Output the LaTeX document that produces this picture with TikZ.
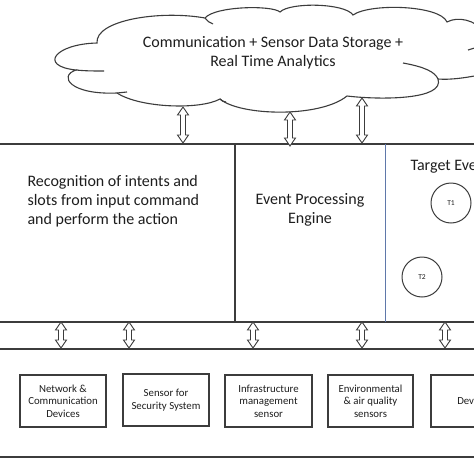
\documentclass[tikz,border=0pt]{standalone}
\usepackage{fontspec}
\setmainfont{Carlito}
\definecolor{ln}{RGB}{60,60,60}
\definecolor{txt}{RGB}{30,30,30}
\definecolor{bl}{RGB}{95,120,170}
\newcommand\blkarrow[2]{%
  \draw[blockarr] (#1) -- ([shift={(5.5,8)}]#1) -- ([shift={(2.5,8)}]#1)
    -- ([shift={(2.5,-8)}]#2) -- ([shift={(5.5,-8)}]#2) -- (#2)
    -- ([shift={(-5.5,-8)}]#2) -- ([shift={(-2.5,-8)}]#2)
    -- ([shift={(-2.5,8)}]#1) -- ([shift={(-5.5,8)}]#1) -- cycle;}
\begin{document}
\begin{tikzpicture}[x=1pt,y=-1pt,
  frame/.style={draw=ln, line width=1.2pt},
  blockarr/.style={draw=ln, fill=white, line width=0.9pt, line join=miter},
  bigtext/.style={text=txt, font=\fontsize{16}{19}\selectfont},
  sensor/.style={draw=ln, line width=1.1pt, minimum width=86pt, minimum height=52pt,
    inner sep=1pt, align=center, text=txt, font=\fontsize{10.8}{12.6}\selectfont},
  target/.style={circle, draw=ln, line width=1pt, minimum size=40pt, inner sep=0pt,
    text=txt, font=\fontsize{7.5}{8}\selectfont}]
\useasboundingbox (0,0) rectangle (474,474);
\clip (0,0) rectangle (474,474);
\fill[white] (0,0) rectangle (474,474);
% cloud
\draw[frame, line width=1.1pt, fill=white] (97,43)
  .. controls (55,44) and (38,66) .. (76,70)
  .. controls (58,76) and (70,95) .. (117,93)
  .. controls (140,108) and (200,110) .. (220,99)
  .. controls (240,116) and (320,118) .. (347,96)
  .. controls (380,100) and (445,100) .. (438,79)
  .. controls (450,80) and (465,78) .. (485,74)
  -- (495,74) -- (495,32) -- (485,32)
  .. controls (475,20) and (458,16) .. (447,22)
  .. controls (440,5) and (370,3) .. (353,15)
  .. controls (345,3) and (290,2) .. (280,12)
  .. controls (272,5) and (215,6) .. (205,18)
  .. controls (160,10) and (95,20) .. (97,43) -- cycle;
\draw[frame, line width=1.1pt] (76,70) .. controls (85,71) and (95,71) .. (104,71);
\draw[frame, line width=1.1pt] (117,93) -- (127,92);
\draw[frame, line width=1.1pt] (205,18) .. controls (207,21) and (210,23) .. (213,24);
\draw[frame, line width=1.1pt] (220,99) .. controls (222,101) and (224,102) .. (226,102);
\draw[frame, line width=1.1pt] (403,63) .. controls (425,67) and (435,72) .. (438,79);
\draw[frame, line width=1.1pt] (468,50) .. controls (471,49) and (474,48) .. (480,47);
\node[bigtext, align=center] (cloudtext) at (273,53) {Communication + Sensor Data Storage +\\Real Time Analytics};
% frame lines
\draw[frame] (0,144) -- (474,144);
\draw[frame] (0,322) -- (474,322);
\draw[frame] (0,349) -- (474,349);
\draw[frame] (0,457) -- (474,457);
\draw[frame] (235,144) -- (235,322);
\draw[draw=bl, line width=0.8pt] (385,144) -- (385,322);
% texts in top row
\node[bigtext, anchor=west, align=left] (recog) at (24,201) {Recognition of intents and\\slots from input command\\and perform the action};
\node[bigtext, align=center] (epe) at (310,210) {Event Processing\\Engine};
\node[bigtext, anchor=west] (tev) at (407,167) {Target Events};
\node[target] (t1) at (451,203) {T1};
\node[target] (t2) at (422,277) {T2};
% cloud arrows
\coordinate (c1) at (183,107); \coordinate (u1) at (183,143);
\coordinate (c2) at (290,112); \coordinate (u2) at (290,146);
\coordinate (c3) at (362,98);  \coordinate (u3) at (362,143);
\blkarrow{c1}{u1}
\blkarrow{c2}{u2}
\blkarrow{c3}{u3}
% bus arrows
\foreach \i/\x in {1/61,2/129,3/253,4/362,5/445}{
  \coordinate (bt\i) at (\x,322); \coordinate (bb\i) at (\x,348);
  \blkarrow{bt\i}{bb\i}
}
% sensor boxes
\node[sensor] (s1) at (63,401) {Network \&\\Communication\\Devices};
\node[sensor] (s2) at (166,400) {Sensor for\\Security System};
\node[sensor, minimum width=87pt] (s3) at (268.5,401) {Infrastructure\\management\\sensor};
\node[sensor, minimum width=85pt] (s4) at (370.5,401) {Environmental\\\& air quality\\sensors};
\node[sensor] (s5) at (474,401) {Devices};
\end{tikzpicture}
\end{document}
